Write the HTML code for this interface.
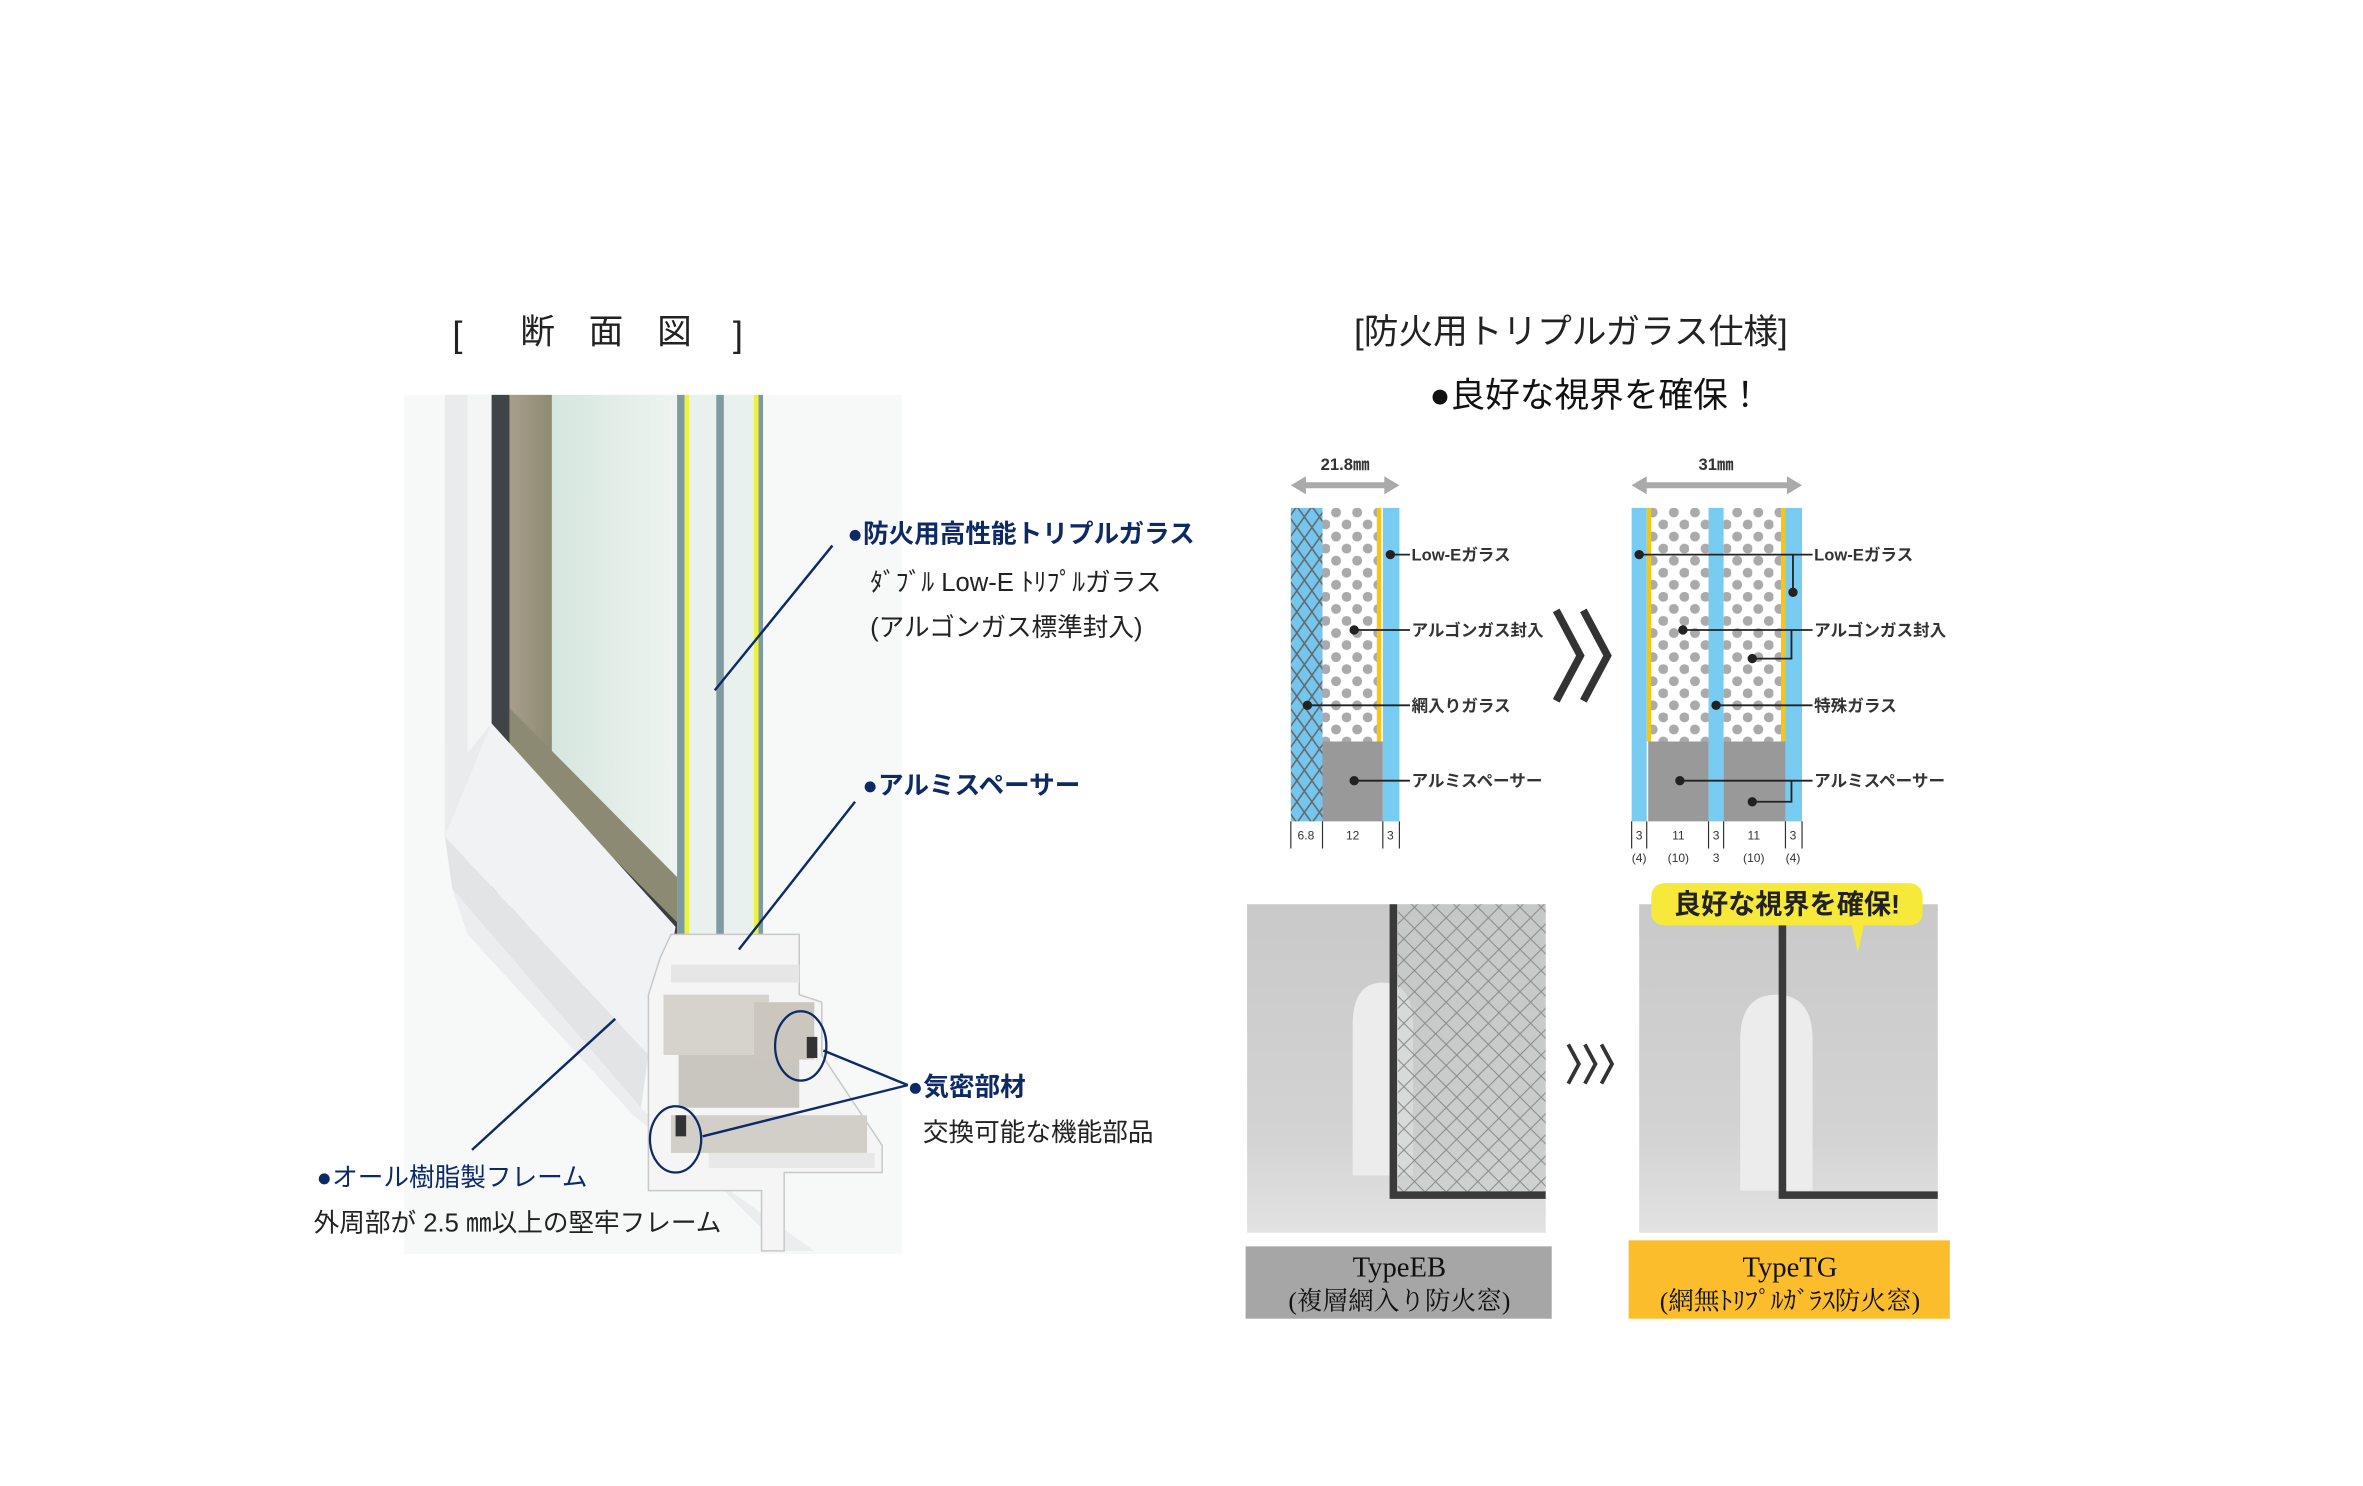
<!DOCTYPE html>
<html><head><meta charset="utf-8">
<style>
html,body{margin:0;padding:0;background:#fff;}
svg{display:block;}
text{font-family:"Liberation Sans","Noto Sans CJK JP",sans-serif;}
.serif{font-family:"Liberation Serif","Noto Serif CJK SC",serif;}
</style></head>
<body>
<svg width="2363" height="1486" viewBox="0 0 1567 986" preserveAspectRatio="none" xmlns="http://www.w3.org/2000/svg">
<defs>
  <pattern id="dots" width="14" height="16" patternUnits="userSpaceOnUse">
    <circle cx="4" cy="4" r="3.3" fill="#aaa"/>
    <circle cx="11" cy="12" r="3.3" fill="#aaa"/>
  </pattern>
  <pattern id="hatch" width="10" height="14" patternUnits="userSpaceOnUse">
    <rect width="10" height="14" fill="#74c6ee"/>
    <path d="M0 0 L10 14 M10 0 L0 14" stroke="#666" stroke-width="1"/>
  </pattern>
  <pattern id="mesh" width="14" height="14" patternUnits="userSpaceOnUse">
    <path d="M0 0 L14 14 M14 0 L0 14" stroke="#8a8a8a" stroke-width="0.7"/>
  </pattern>
  <linearGradient id="beige" x1="0" x2="1"><stop offset="0" stop-color="#a79e8c"/><stop offset="1" stop-color="#8e8a72"/></linearGradient>
  <linearGradient id="glassg" x1="0" x2="1"><stop offset="0" stop-color="#d6e6df"/><stop offset="1" stop-color="#eef4f1"/></linearGradient>
  <linearGradient id="photo" x1="0" x2="0" y1="0" y2="1"><stop offset="0" stop-color="#c9c9c9"/><stop offset="0.7" stop-color="#d3d3d3"/><stop offset="1" stop-color="#e2e2e2"/></linearGradient>
</defs>

<text x="300" y="230" font-size="24" fill="#222">[</text>
<text x="345" y="228" font-size="23" fill="#222" letter-spacing="8">断 面 図</text>
<text x="486" y="230" font-size="24" fill="#222">]</text>
<text x="898" y="228" font-size="23" fill="#222">[防火用トリプルガラス仕様]</text>
<text x="948" y="270" font-size="23" fill="#111">●良好な視界を確保！</text>

<rect x="268" y="262" width="330" height="570" fill="#f7f8f8"/>
<polygon points="295,262 326,262 326,490 295,555" fill="#e9ebec"/>
<polygon points="310,262 326,262 326,480 310,500" fill="#f4f5f5"/>
<rect x="326" y="262" width="12" height="330" fill="#3f4447"/>
<rect x="338" y="262" width="28" height="350" fill="url(#beige)"/>
<rect x="366" y="262" width="86" height="340" fill="url(#glassg)"/>
<polygon points="326,480 452,610 452,640 326,510" fill="#3a3e40"/>
<polygon points="338,470 452,585 452,615 338,500" fill="#8c8a72"/>
<polygon points="295,555 326,480 448,615 440,660 430,700" fill="#f1f2f3"/>
<polygon points="295,555 430,700 425,735 300,590" fill="#e2e4e6"/>
<polygon points="300,590 425,735 520,830 540,830 470,780 420,740 310,620" fill="#ecedef"/>
<rect x="449" y="262" width="56" height="375" fill="#e9f1ee"/>
<rect x="449" y="262" width="5" height="375" fill="#7f9aa0"/>
<rect x="454" y="262" width="3" height="375" fill="#eef23a"/>
<rect x="475" y="262" width="5" height="375" fill="#7f9aa0"/>
<rect x="500" y="262" width="3" height="375" fill="#eef23a"/>
<rect x="503" y="262" width="3" height="375" fill="#7f9aa0"/>
<rect x="456" y="621" width="20" height="16" fill="#8fbfd2" stroke="#333" stroke-width="1"/>
<rect x="481" y="621" width="20" height="16" fill="#8fbfd2" stroke="#333" stroke-width="1"/>
<polygon points="438,635 445,620 530,620 530,660 545,665 545,700 585,760 585,778 520,778 520,830 505,830 505,790 430,790 430,660" fill="#f5f5f5" stroke="#c8c8c8" stroke-width="1"/>
<rect x="445" y="640" width="85" height="12" fill="#e6e6e6"/>
<rect x="440" y="660" width="70" height="40" fill="#d6d3cc"/>
<rect x="450" y="700" width="80" height="35" fill="#c9c6bf"/>
<rect x="500" y="665" width="40" height="38" fill="#cbc7bf"/>
<rect x="445" y="740" width="130" height="25" fill="#d2cfc8"/>
<rect x="470" y="765" width="110" height="10" fill="#e8e8e8"/>
<rect x="535" y="688" width="7" height="14" fill="#333"/>
<rect x="448" y="740" width="7" height="14" fill="#333"/>
<ellipse cx="531" cy="694" rx="17" ry="23" fill="none" stroke="#0d2a66" stroke-width="1.5"/>
<ellipse cx="448" cy="756" rx="17" ry="22" fill="none" stroke="#0d2a66" stroke-width="1.5"/>

<g stroke="#0d2a66" stroke-width="1.6" fill="none">
<line x1="552" y1="362" x2="474" y2="458"/>
<line x1="567" y1="532" x2="490" y2="630"/>
<line x1="602" y1="720" x2="546" y2="697"/>
<line x1="602" y1="720" x2="466" y2="754"/>
<line x1="408" y1="676" x2="313" y2="763"/>
</g>

<text x="562" y="360" font-size="17" font-weight="bold" fill="#0d2a66">●防火用高性能トリプルガラス</text>
<text x="577" y="392" font-size="17" fill="#222">ﾀﾞﾌﾞﾙ Low-E ﾄﾘﾌﾟﾙガラス</text>
<text x="577" y="422" font-size="17" fill="#222">(アルゴンガス標準封入)</text>
<text x="572" y="527" font-size="17" font-weight="bold" fill="#0d2a66">●アルミスペーサー</text>
<text x="602" y="727" font-size="17" font-weight="bold" fill="#0d2a66">●気密部材</text>
<text x="612" y="757" font-size="17" fill="#222">交換可能な機能部品</text>
<text x="210" y="787" font-size="17" fill="#0d2a66">●オール樹脂製フレーム</text>
<text x="208" y="817" font-size="17" fill="#222">外周部が 2.5 ㎜以上の堅牢フレーム</text>

<text x="892" y="312" font-size="11" font-weight="bold" fill="#333" text-anchor="middle">21.8㎜</text>
<g fill="#aaa"><line x1="862" y1="322" x2="922" y2="322" stroke="#aaa" stroke-width="4"/>
<polygon points="856,322 866,316 866,328"/><polygon points="928,322 918,316 918,328"/></g>
<rect x="856" y="337" width="21" height="208" fill="url(#hatch)"/>
<rect x="877" y="337" width="38" height="155" fill="#fff"/>
<rect x="877" y="337" width="38" height="155" fill="url(#dots)"/>
<rect x="877" y="492" width="40" height="53" fill="#999"/>
<rect x="913" y="337" width="3" height="155" fill="#f5c518"/>
<rect x="917" y="337" width="11" height="208" fill="#78ccf2"/>
<g stroke="#222" stroke-width="1.2" fill="#222">
<line x1="922" y1="368" x2="935" y2="368"/><circle cx="922" cy="368" r="2.5"/>
<line x1="898" y1="418" x2="935" y2="418"/><circle cx="898" cy="418" r="2.5"/>
<line x1="867" y1="468" x2="935" y2="468"/><circle cx="867" cy="468" r="2.5"/>
<line x1="898" y1="518" x2="935" y2="518"/><circle cx="898" cy="518" r="2.5"/>
</g>
<g font-size="11" fill="#333" font-weight="bold">
<text x="936" y="372">Low-Eガラス</text>
<text x="936" y="422">アルゴンガス封入</text>
<text x="936" y="472">網入りガラス</text>
<text x="936" y="522">アルミスペーサー</text>
</g>
<g stroke="#333" stroke-width="0.8">
<line x1="856" y1="545" x2="856" y2="563"/><line x1="877" y1="545" x2="877" y2="563"/>
<line x1="917" y1="545" x2="917" y2="563"/><line x1="928" y1="545" x2="928" y2="563"/>
</g>
<g font-size="8" fill="#333" text-anchor="middle">
<text x="866" y="557">6.8</text><text x="897" y="557">12</text><text x="922" y="557">3</text>
</g>

<g fill="none" stroke="#333" stroke-width="5">
<polyline points="1032,405 1048,435 1032,465"/><polyline points="1050,405 1066,435 1050,465"/>
</g>

<text x="1138" y="312" font-size="11" font-weight="bold" fill="#333" text-anchor="middle">31㎜</text>
<g fill="#aaa"><line x1="1088" y1="322" x2="1189" y2="322" stroke="#aaa" stroke-width="4"/>
<polygon points="1082,322 1092,316 1092,328"/><polygon points="1195,322 1185,316 1185,328"/></g>
<rect x="1082" y="337" width="10" height="208" fill="#78ccf2"/>
<rect x="1092" y="337" width="41" height="155" fill="url(#dots)"/>
<rect x="1092" y="337" width="3" height="155" fill="#f5c518"/>
<rect x="1093" y="492" width="40" height="53" fill="#999"/>
<rect x="1133" y="337" width="10" height="208" fill="#78ccf2"/>
<rect x="1143" y="337" width="40" height="155" fill="url(#dots)"/>
<rect x="1181" y="337" width="3" height="155" fill="#f5c518"/>
<rect x="1143" y="492" width="41" height="53" fill="#999"/>
<rect x="1184" y="337" width="11" height="208" fill="#78ccf2"/>
<g stroke="#222" stroke-width="1.2" fill="#222">
<line x1="1087" y1="368" x2="1202" y2="368"/><circle cx="1087" cy="368" r="2.5"/>
<polyline points="1189,368 1189,393" fill="none"/><circle cx="1189" cy="393" r="2.5"/>
<line x1="1116" y1="418" x2="1202" y2="418"/><circle cx="1116" cy="418" r="2.5"/>
<polyline points="1188,418 1188,437 1162,437" fill="none"/><circle cx="1162" cy="437" r="2.5"/>
<line x1="1138" y1="468" x2="1202" y2="468"/><circle cx="1138" cy="468" r="2.5"/>
<line x1="1114" y1="518" x2="1202" y2="518"/><circle cx="1114" cy="518" r="2.5"/>
<polyline points="1188,518 1188,532 1162,532" fill="none"/><circle cx="1162" cy="532" r="2.5"/>
</g>
<g font-size="11" fill="#333" font-weight="bold">
<text x="1203" y="372">Low-Eガラス</text>
<text x="1203" y="422">アルゴンガス封入</text>
<text x="1203" y="472">特殊ガラス</text>
<text x="1203" y="522">アルミスペーサー</text>
</g>
<g stroke="#333" stroke-width="0.8">
<line x1="1082" y1="545" x2="1082" y2="563"/><line x1="1092" y1="545" x2="1092" y2="563"/>
<line x1="1133" y1="545" x2="1133" y2="563"/><line x1="1143" y1="545" x2="1143" y2="563"/>
<line x1="1184" y1="545" x2="1184" y2="563"/><line x1="1195" y1="545" x2="1195" y2="563"/>
</g>
<g font-size="8" fill="#333" text-anchor="middle">
<text x="1087" y="557">3</text><text x="1113" y="557">11</text><text x="1138" y="557">3</text><text x="1163" y="557">11</text><text x="1189" y="557">3</text>
<text x="1087" y="572">(4)</text><text x="1113" y="572">(10)</text><text x="1138" y="572">3</text><text x="1163" y="572">(10)</text><text x="1189" y="572">(4)</text>
</g>

<rect x="827" y="600" width="198" height="218" fill="url(#photo)"/>
<path d="M897 780 L897 680 Q897 652 917 652 Q937 652 937 680 L937 780 Z" fill="#ececec"/>
<rect x="927" y="600" width="98" height="193" fill="#c4c7c8" opacity="0.5"/>
<rect x="927" y="600" width="98" height="193" fill="url(#mesh)"/>
<polyline points="924,600 924,793 1025,793" fill="none" stroke="#3a3a3a" stroke-width="5"/>
<rect x="826" y="827" width="203" height="48" fill="#a6a6a6"/>
<text x="928" y="847" class="serif" font-size="19" fill="#111" text-anchor="middle">TypeEB</text>
<text x="928" y="869" class="serif" font-size="17" fill="#111" text-anchor="middle">(複層網入り防火窓)</text>

<g fill="none" stroke="#333" stroke-width="2.5">
<polyline points="1040,693 1047,706 1040,719"/><polyline points="1051,693 1058,706 1051,719"/><polyline points="1062,693 1069,706 1062,719"/>
</g>

<rect x="1087" y="600" width="198" height="218" fill="url(#photo)"/>
<path d="M1154 790 L1154 690 Q1154 660 1178 660 Q1202 660 1202 690 L1202 790 Z" fill="#ececec"/>
<polyline points="1182,600 1182,793 1285,793" fill="none" stroke="#3a3a3a" stroke-width="5"/>
<path d="M1105 586 L1265 586 Q1275 586 1275 596 L1275 605 Q1275 614 1265 614 L1236 614 L1232 632 L1228 614 L1105 614 Q1095 614 1095 605 L1095 596 Q1095 586 1105 586 Z" fill="#f7e93a"/>
<text x="1185" y="606" font-size="18" font-weight="bold" fill="#222" text-anchor="middle">良好な視界を確保!</text>
<rect x="1080" y="823" width="213" height="52" fill="#fbbd2c"/>
<text x="1187" y="847" class="serif" font-size="19" fill="#111" text-anchor="middle">TypeTG</text>
<text x="1187" y="869" class="serif" font-size="17" fill="#111" text-anchor="middle">(網無ﾄﾘﾌﾟﾙｶﾞﾗｽ防火窓)</text>
</svg>
</body></html>
